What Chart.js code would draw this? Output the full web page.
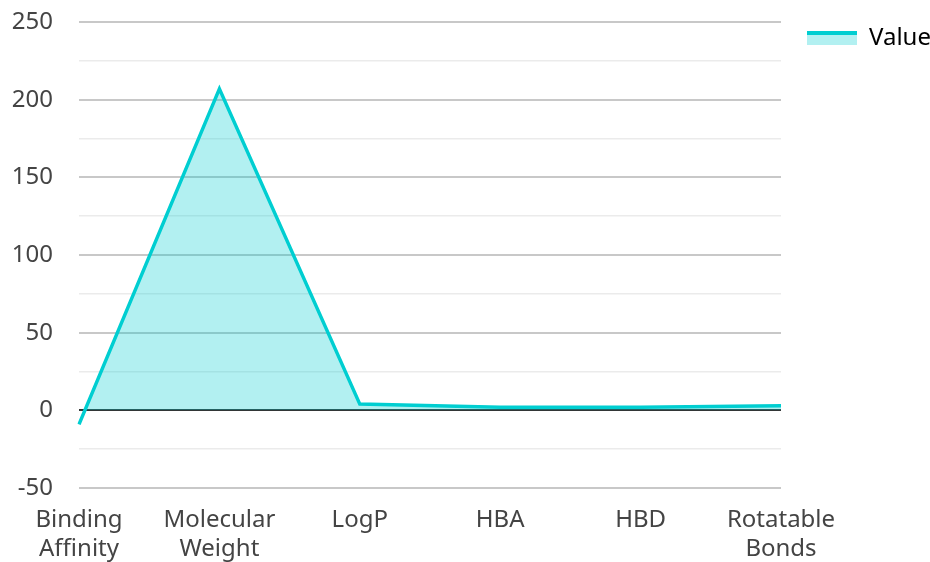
<!DOCTYPE html>
<html>
<head>
<meta charset="utf-8">
<script src="https://cdn.jsdelivr.net/npm/chart.js@4/dist/chart.umd.min.js"></script>
<style>
  html, body { margin: 0; padding: 0; background: #fff; }
  #wrap { width: 930px; height: 562px; }
</style>
</head>
<body>
<div id="wrap"><canvas id="chart"></canvas></div>
<script>
const categories = [['Binding', 'Affinity'], ['Molecular', 'Weight'], 'LogP', 'HBA', 'HBD', ['Rotatable', 'Bonds']];
const values = [-9, 207, 4, 2, 2, 3];
const seriesName = 'Value';

const LINE = '#00CED1';
const FILL = 'rgba(0, 206, 209, 0.3)';

// legend swatch: thin line on top, pale fill below (canvas coords)
function swatch(ctx) {
    const top = 31, h = 14;
    const g = ctx.createLinearGradient(0, top, 0, top + h);
    g.addColorStop(0, LINE);
    g.addColorStop(0.28, LINE);
    g.addColorStop(0.28, 'rgb(178, 240, 241)');
    g.addColorStop(1, 'rgb(178, 240, 241)');
    return g;
}

// legend takes a fixed slot on the right, swatch placed like the original
const legendSlot = {
    id: 'legendSlot',
    beforeLayout(chart) {
        const lg = chart.legend;
        if (lg && !lg._patched) {
            const fit = lg.fit;
            lg.fit = function () {
                fit.call(this);
                this.width = 149;
            };
            lg._patched = true;
        }
    },
    afterLayout(chart) {
        const lg = chart.legend;
        const w = lg.width, h = lg.height;
        lg.left = 797; lg.right = lg.left + w;
        lg.top = 16; lg.bottom = lg.top + h;
    }
};

const ctx = document.getElementById('chart');
Chart.defaults.font.family = '"Noto Sans", sans-serif';
Chart.defaults.font.size = 24;
Chart.defaults.color = '#444';

new Chart(ctx, {
    type: 'line',
    data: {
        labels: categories,
        datasets: [{
            label: seriesName,
            data: values,
            borderColor: LINE,
            borderWidth: 3.5,
            backgroundColor: FILL,
            fill: { target: 'origin', above: FILL, below: 'transparent' },
            pointRadius: 0,
            tension: 0
        }]
    },
    options: {
        responsive: true,
        maintainAspectRatio: false,
        animation: false,
        layout: { padding: { top: 0, right: 0, left: 12, bottom: 0 } },
        plugins: {
            legend: {
                position: 'right',
                align: 'start',
                labels: {
                    boxWidth: 50,
                    boxHeight: 14,
                    padding: 10,
                    color: '#333',
                    generateLabels: (chart) => [{
                        text: seriesName,
                        fillStyle: swatch(chart.ctx),
                        strokeStyle: 'transparent',
                        lineWidth: 0,
                        datasetIndex: 0
                    }]
                }
            },
            tooltip: { enabled: false }
        },
        scales: {
            x: {
                offset: false,
                grid: { display: false },
                border: { display: false },
                ticks: { padding: 10, maxRotation: 0, autoSkip: false },
                afterFit: (scale) => { scale.height = 74; }
            },
            y: {
                min: -50,
                max: 250,
                border: { display: false },
                grid: {
                    drawTicks: false,
                    color: (c) => {
                        const v = c.tick.value;
                        if (v === 0) return '#333';
                        return v % 50 === 0 ? '#c8c8c8' : '#ebebeb';
                    },
                    lineWidth: (c) => c.tick.value % 50 === 0 ? 2 : 1.5
                },
                ticks: {
                    stepSize: 25,
                    padding: 26,
                    callback: (v) => v % 50 === 0 ? v : ''
                },
                afterFit: (scale) => {
                    scale.width = 67;
                    scale.paddingTop = 22;
                    scale.paddingBottom = 22;
                }
            }
        }
    },
    plugins: [legendSlot]
});
</script>
</body>
</html>
